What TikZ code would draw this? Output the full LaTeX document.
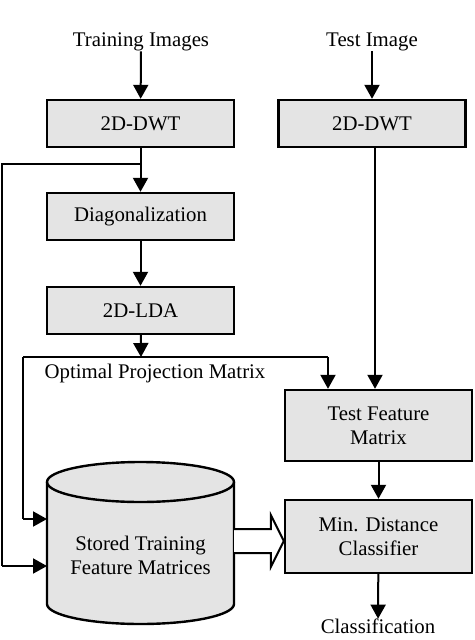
\documentclass[tikz,border=0pt]{standalone}
\usepackage{fontspec}
\setmainfont{Liberation Serif}
\usetikzlibrary{arrows.meta,calc}
\begin{document}
\begin{tikzpicture}[x=1pt,y=-1pt,
  font=\fontsize{20.8}{24}\selectfont,
  box/.style={draw=black,line width=2.4pt,fill=boxgray,minimum width=187pt,minimum height=47pt,inner sep=0pt,align=center},
  arr/.style={line width=2pt,-{Triangle[width=15pt,length=14pt]}},
  ln/.style={line width=2pt},
  lbl/.style={inner sep=0pt,align=center}]
\definecolor{boxgray}{HTML}{E4E4E4}
\useasboundingbox (0,0) rectangle (474,640);
% nodes
\node[lbl] (ti) at (141,42) {Training Images};
\node[lbl] (te) at (372,42) {Test Image};
\node[box] (dwt1) at (140.5,123.5) {2D-DWT};
\node[box] (dwt2) at (372,123.5) {2D-DWT};
\node[box] (diag) at (140.5,216.5) {Diagonalization};
\node[box] (lda) at (140.5,310.5) {2D-LDA};
\node[box,minimum height=71pt,align=center] (tfm) at (378.5,425.5) {Test Feature\\Matrix};
\node[box,minimum height=73pt,align=center] (mdc) at (378.5,536.5) {Min. Distance\\Classifier};
\node[lbl,anchor=base] (cls) at (378,633.5) {Classification};
\node[lbl] (opm) at (155,373) {Optimal Projection Matrix};
% cylinder
\fill[boxgray] (47,482) -- (47,604) arc[start angle=180,end angle=0,x radius=93.5,y radius=20] -- (234,482) arc[start angle=0,end angle=-180,x radius=93.5,y radius=20] -- cycle;
\draw[line width=2.4pt] (47,482) -- (47,604) arc[start angle=180,end angle=0,x radius=93.5,y radius=20] -- (234,482);
\draw[line width=2.4pt] (140.5,482) ellipse[x radius=93.5,y radius=20];
\node[lbl,minimum width=187pt,minimum height=142pt] (store) at (140.5,543) {};
\node[lbl] (storetxt) at (140.5,555) {Stored Training\\Feature Matrices};
% coordinates
\coordinate (b1) at (141,164);
\coordinate (b1l) at (2,164);
\coordinate (b1b) at (2,566);
\coordinate (s1) at (47,566);
\coordinate (p0) at (141,357);
\coordinate (pl) at (23,357);
\coordinate (pr) at (328,357);
\coordinate (plb) at (23,519);
\coordinate (s2) at (47,519);
% connectors
\draw[arr] (ti) -- (dwt1);
\draw[arr] (te) -- (dwt2);
\draw[arr] (dwt1) -- (diag);
\draw[ln] (b1) -- (b1l) -- (b1b);
\draw[arr] (b1b) -- (s1);
\draw[arr] (diag) -- (lda);
\draw[arr] (lda) -- (p0);
\draw[ln] (pl) -- (pr);
\draw[arr] (pr) -- (pr |- tfm.north);
\draw[ln] (pl) -- (plb);
\draw[arr] (plb) -- (s2);
\draw[arr] ([xshift=3pt]dwt2.south) -- ([xshift=3pt]dwt2.south |- tfm.north);
\draw[arr] (tfm) -- (mdc);
\draw[arr] (mdc) -- (cls);
% open block arrow
\coordinate (tip) at (mdc.west |- 0,541);
\draw[line width=2pt,fill=white,line join=miter] (234,529) -- ($(tip)+(-13,-12)$) -- ($(tip)+(-13,-26)$) -- (tip) -- ($(tip)+(-13,26)$) -- ($(tip)+(-13,12)$) -- (234,553);
\end{tikzpicture}
\end{document}
